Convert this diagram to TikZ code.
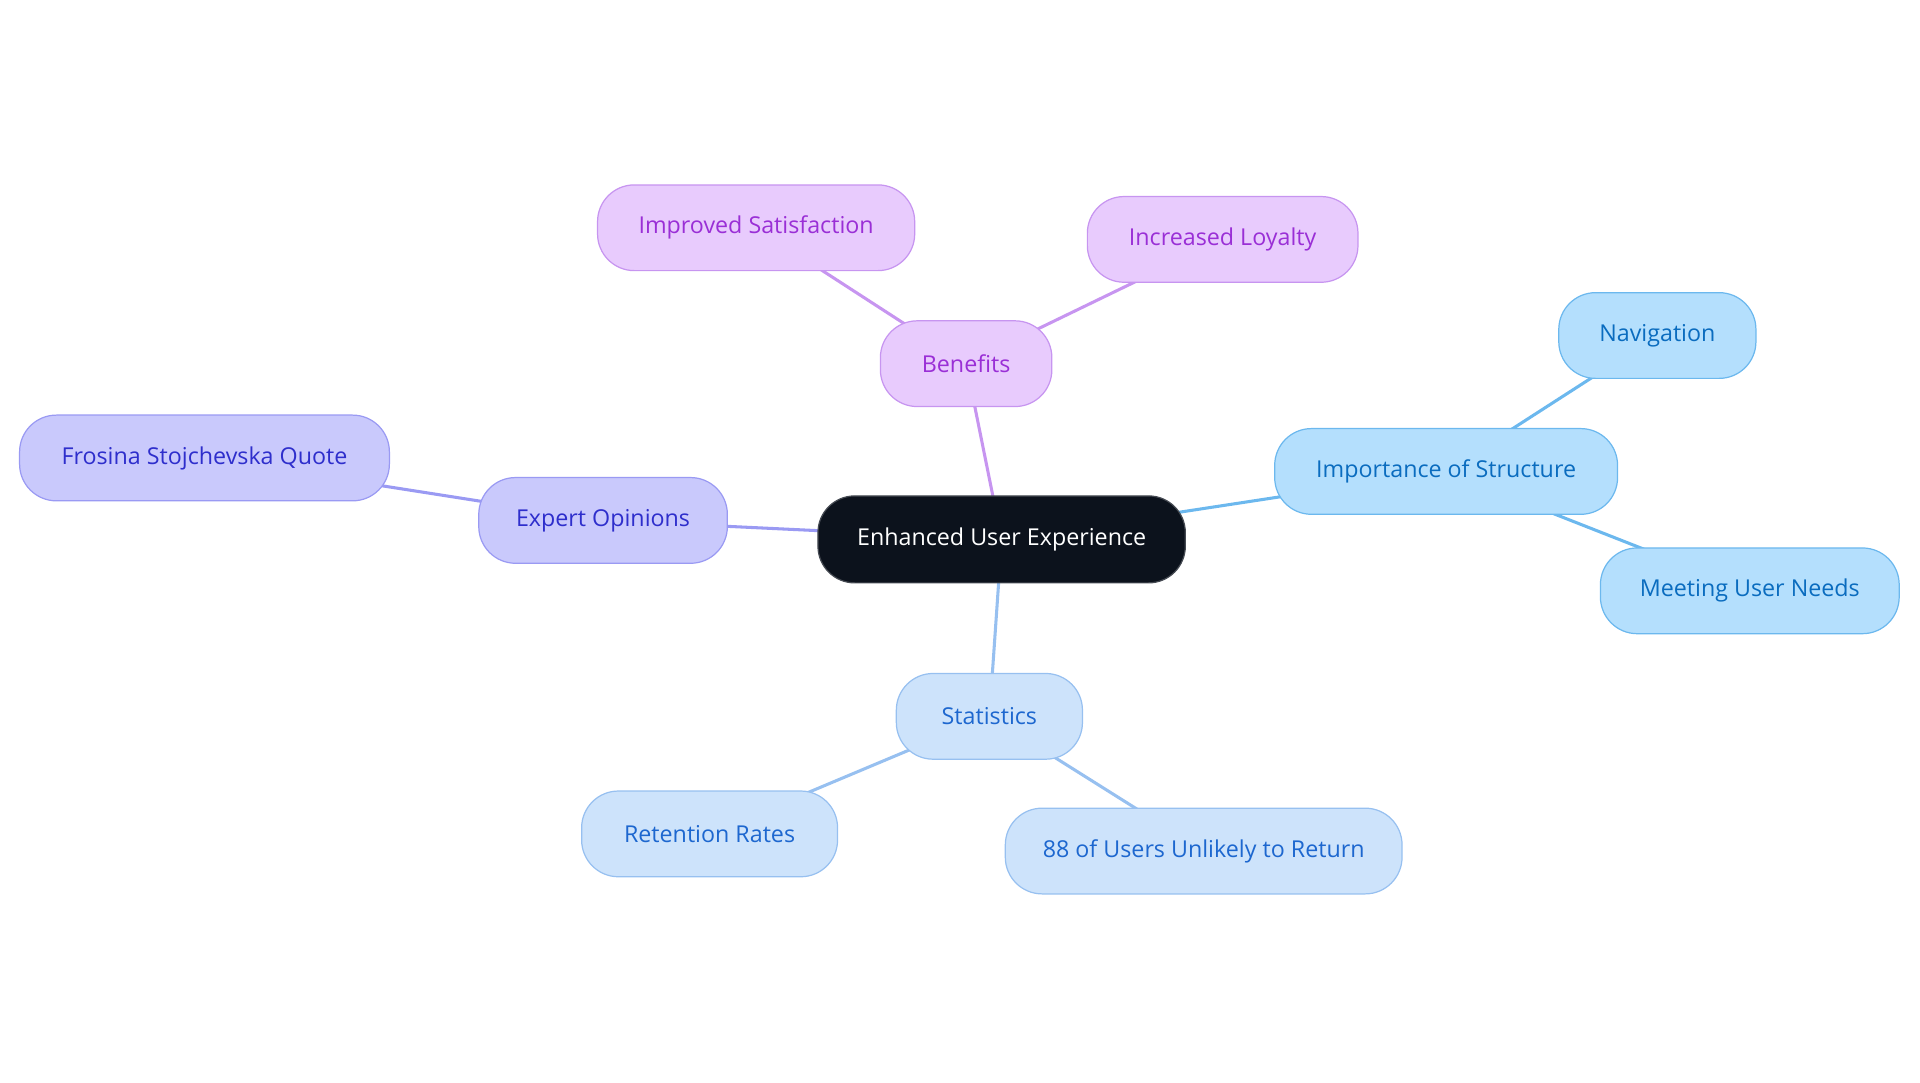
\documentclass[tikz,border=0pt]{standalone}
\usepackage{fontspec}
\setmainfont{Open Sans}
\usetikzlibrary{backgrounds}
\definecolor{pfill}{HTML}{E8CBFD}
\definecolor{pdraw}{HTML}{C795F0}
\definecolor{ptext}{HTML}{9A2FD6}
\definecolor{bfill}{HTML}{B4DFFD}
\definecolor{bdraw}{HTML}{6CB8EE}
\definecolor{btext}{HTML}{0A6CBF}
\definecolor{sfill}{HTML}{CDE3FB}
\definecolor{sdraw}{HTML}{97C0F0}
\definecolor{stext}{HTML}{1D67CF}
\definecolor{efill}{HTML}{C9C9FC}
\definecolor{edraw}{HTML}{9A9AF3}
\definecolor{etext}{HTML}{2E2ECC}
\definecolor{cfill}{HTML}{0C121C}
\definecolor{cdraw}{HTML}{454A52}
\tikzset{
  box/.style={draw, line width=1pt, rounded corners=30pt, minimum height=70pt, inner sep=0pt,
    font=\fontsize{19}{21}\selectfont, align=center},
  pbox/.style={box, fill=pfill, draw=pdraw, text=ptext},
  bbox/.style={box, fill=bfill, draw=bdraw, text=btext},
  sbox/.style={box, fill=sfill, draw=sdraw, text=stext},
  ebox/.style={box, fill=efill, draw=edraw, text=etext},
  cbox/.style={box, fill=cfill, draw=cdraw, text=white, minimum height=71pt},
  pline/.style={draw=pdraw, line width=2.5pt},
  bline/.style={draw=bdraw, line width=2.5pt},
  sline/.style={draw=sdraw, line width=2.5pt},
  eline/.style={draw=edraw, line width=2.5pt},
}
\begin{document}
\begin{tikzpicture}[x=1pt,y=-1pt]
\useasboundingbox (0,0) rectangle (1568,884);
\node[cbox, minimum width=300pt] (c) at (818,440.5) {Enhanced User Experience};
\node[pbox, minimum width=140pt] (ben) at (789,297) {Benefits};
\node[pbox, minimum width=259pt] (imp) at (617.5,186) {Improved Satisfaction};
\node[pbox, minimum width=221pt] (loy) at (998.5,195.5) {Increased Loyalty};
\node[bbox, minimum width=280pt] (str) at (1181,385) {Importance of Structure};
\node[bbox, minimum width=161pt] (nav) at (1353.5,274) {Navigation};
\node[bbox, minimum width=244pt] (meet) at (1429,482.5) {Meeting User Needs};
\node[ebox, minimum width=203pt] (exp) at (492.5,425) {Expert Opinions};
\node[ebox, minimum width=302pt] (fro) at (167,374) {Frosina Stojchevska Quote};
\node[sbox, minimum width=152pt] (sta) at (808,585) {Statistics};
\node[sbox, minimum width=209pt] (ret) at (579.5,681) {Retention Rates};
\node[sbox, minimum width=324pt] (ret88) at (983,695) {88 of Users Unlikely to Return};
\begin{scope}[on background layer]
\draw[pline] (c.center) -- (ben.center);
\draw[pline] (ben.center) -- (imp.center);
\draw[pline] (ben.center) -- (loy.center);
\draw[bline] (c.center) -- (str.center);
\draw[bline] (str.center) -- (nav.center);
\draw[bline] (str.center) -- (meet.center);
\draw[eline] (c.center) -- (exp.center);
\draw[eline] (exp.center) -- (fro.center);
\draw[sline] (c.center) -- (sta.center);
\draw[sline] (sta.center) -- (ret.center);
\draw[sline] (sta.center) -- (ret88.center);
\end{scope}
\end{tikzpicture}
\end{document}
